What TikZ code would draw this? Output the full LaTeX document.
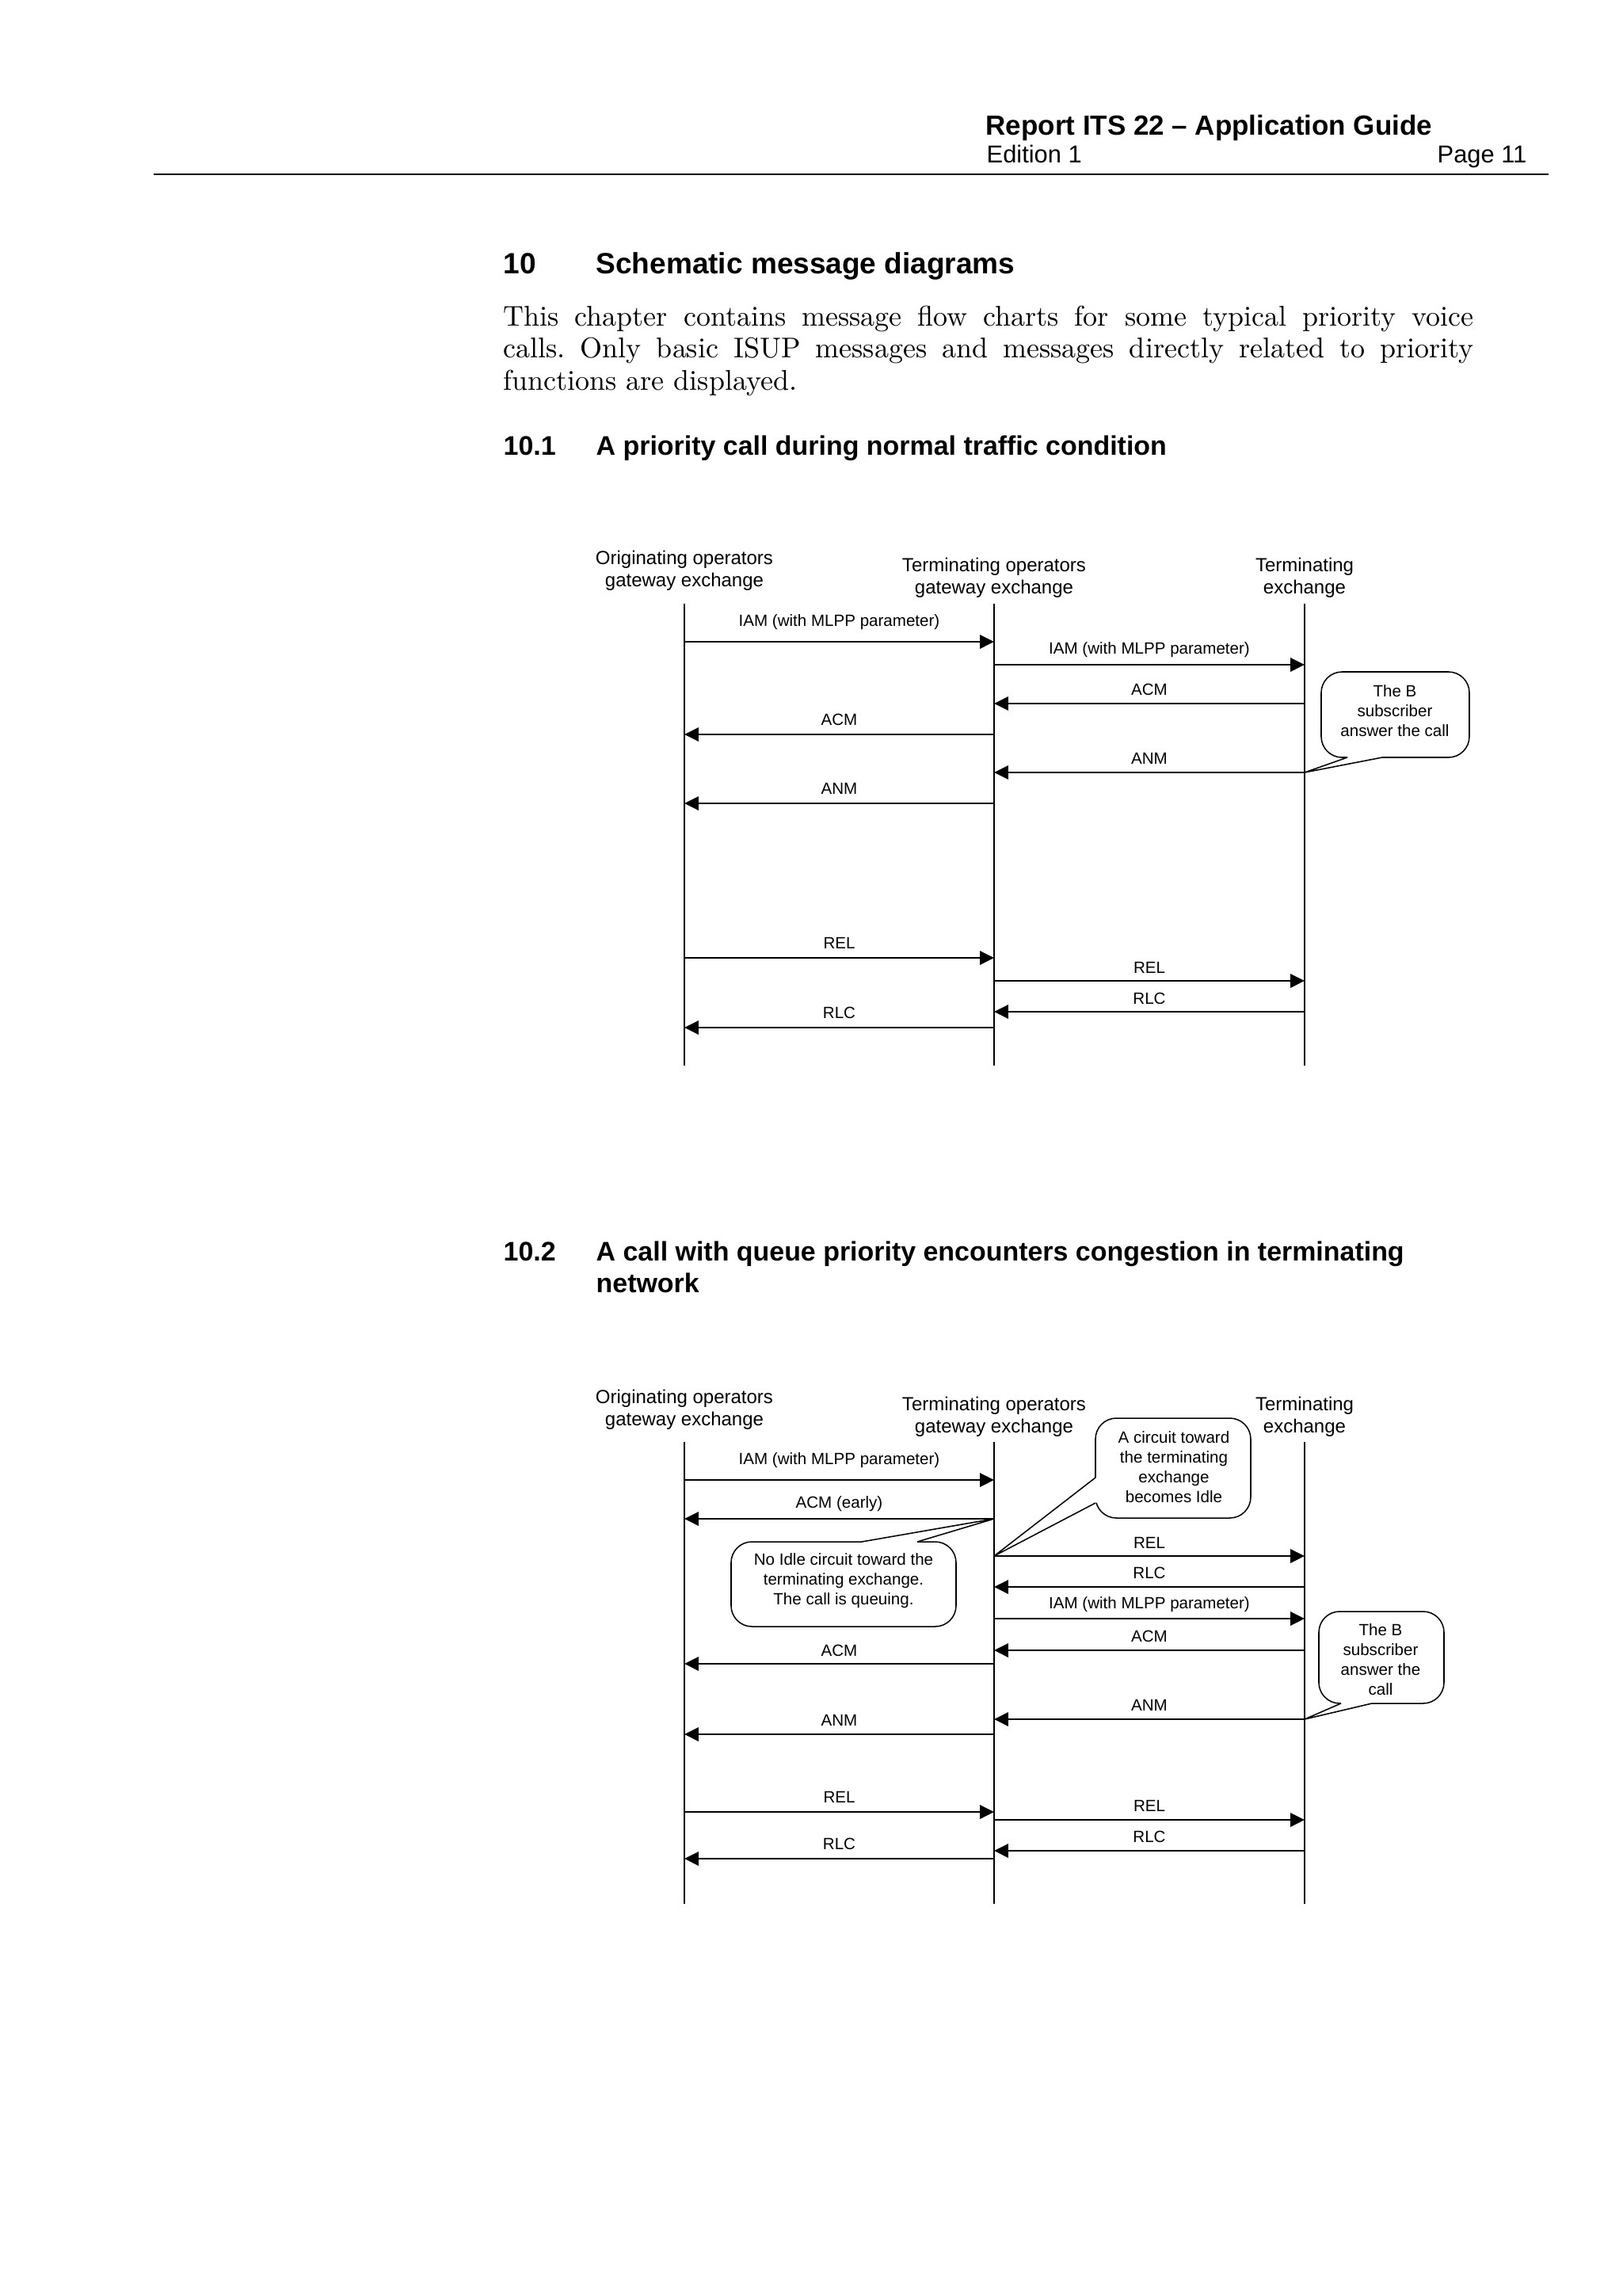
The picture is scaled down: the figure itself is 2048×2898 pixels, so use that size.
\documentclass[tikz,border=0pt]{standalone}
\usepackage{fontspec}
\newfontfamily\arial{Liberation Sans}
\usetikzlibrary{arrows.meta}
\tikzset{
  life/.style={line width=0.4pt},
  msg/.style={line width=0.7pt, -{Triangle[length=5.2pt,width=5pt]}},
  lbl/.style={font=\arial\fontsize{6pt}{7pt}\selectfont, anchor=base, inner sep=0pt},
  part/.style={font=\arial\fontsize{7pt}{8.1pt}\selectfont, align=center, inner sep=0pt},
  callout/.style={line width=0.45pt, rounded corners=2.7mm, fill=white},
  tail/.style={line width=0.45pt},
  ctext/.style={font=\arial\fontsize{6pt}{7.3pt}\selectfont, align=center, inner sep=0pt},
  head/.style={font=\arial\bfseries\fontsize{10.8pt}{12.2pt}\selectfont, anchor=base west, inner sep=0pt},
  subhead/.style={font=\arial\bfseries\fontsize{9.9pt}{11.8pt}\selectfont, anchor=base west, inner sep=0pt},
  body/.style={anchor=north west, inner sep=0pt, text width=125.6mm, align=justify,
               font=\fontsize{10.5pt}{11.9pt}\selectfont\frenchspacing},
}
\newcommand\Msg[6]{%
  \coordinate (#1s) at (#2,#4);
  \coordinate (#1e) at (#3,#4);
  \draw[msg] (#1s) -- (#1e);
  \node[lbl] (#1l) at ({(#2+#3)/2},#5) {#6};}
\begin{document}
\begin{tikzpicture}[x=0.1025390625mm, y=-0.1025390625mm]
\useasboundingbox (0,0) rectangle (2048,2898);
% ---------- page header ----------
\node[anchor=base west, inner sep=0pt, font=\arial\bfseries\fontsize{10.2pt}{12pt}\selectfont] (hdr) at (1244,170) {Report ITS 22 – Application Guide};
\node[anchor=base west, inner sep=0pt, font=\arial\fontsize{9pt}{10pt}\selectfont] (ed) at (1245,205) {Edition 1};
\node[anchor=base east, inner sep=0pt, font=\arial\fontsize{9pt}{10pt}\selectfont] (pg) at (1928,205) {Page 11};
\coordinate (rl) at (194,220); \coordinate (rr) at (1955,220);
\draw[line width=0.75pt] (rl) -- (rr);
% ---------- chapter text ----------
\node[head] (s10n) at (635,345) {10};
\node[head] (s10t) at (752,345) {Schematic message diagrams};
\node[body] (intro) at (635,385) {This chapter contains message flow charts for some typical priority voice\linebreak calls. Only basic ISUP messages and messages directly related to priority\linebreak functions are displayed.};
\node[subhead] (s101n) at (635,574) {10.1};
\node[subhead] (s101t) at (752,574) {A priority call during normal traffic condition};
\node[subhead] (s102n) at (635,1591) {10.2};
\node[subhead, anchor=north west, align=left] (s102t) at (752,1566) {A call with queue priority encounters congestion in terminating\\network};
% ---------- diagram 1 ----------
\node[part] (o1) at (864,720) {Originating operators\\gateway exchange};
\node[part] (g1) at (1255,729) {Terminating operators\\gateway exchange};
\node[part] (t1) at (1647,729) {Terminating\\exchange};
\coordinate (o1t) at (864,762);  \coordinate (o1b) at (864,1345);
\coordinate (g1t) at (1255,762); \coordinate (g1b) at (1255,1345);
\coordinate (t1t) at (1647,762); \coordinate (t1b) at (1647,1345);
\draw[life] (o1t) -- (o1b);
\draw[life] (g1t) -- (g1b);
\draw[life] (t1t) -- (t1b);
\Msg{m1}{864}{1255}{810}{790}{IAM (with MLPP parameter)}
\Msg{m2}{1255}{1647}{839}{825}{IAM (with MLPP parameter)}
\Msg{m3}{1647}{1255}{888}{877}{ACM}
\Msg{m4}{1255}{864}{927}{915}{ACM}
\Msg{m5}{1647}{1255}{975}{964}{ANM}
\Msg{m6}{1255}{864}{1014}{1002}{ANM}
\Msg{m7}{864}{1255}{1209}{1197}{REL}
\Msg{m8}{1255}{1647}{1238}{1228}{REL}
\Msg{m9}{1647}{1255}{1277}{1267}{RLC}
\Msg{m10}{1255}{864}{1297}{1285}{RLC}
% callout
\draw[callout] (1668,848) rectangle (1855,956);
\fill[white] (1702,951) -- (1744,951) -- (1745,957) -- (m5s) -- (1701,957) -- cycle;
\draw[tail] (1701,956) -- (m5s) -- (1745,956);
\node[ctext] (cb1) at (1761,897) {The B\\subscriber\\answer the call};
% ---------- diagram 2 ----------
\node[part] (o2) at (864,1779) {Originating operators\\gateway exchange};
\node[part] (g2) at (1255,1788) {Terminating operators\\gateway exchange};
\node[part] (t2) at (1647,1788) {Terminating\\exchange};
\coordinate (o2t) at (864,1820);  \coordinate (o2b) at (864,2403);
\coordinate (g2t) at (1255,1820); \coordinate (g2b) at (1255,2403);
\coordinate (t2t) at (1647,1820); \coordinate (t2b) at (1647,2403);
\draw[life] (o2t) -- (o2b);
\draw[life] (g2t) -- (g2b);
\draw[life] (t2t) -- (t2b);
\Msg{n1}{864}{1255}{1868}{1848}{IAM (with MLPP parameter)}
\Msg{n2}{1255}{864}{1917}{1903}{ACM (early)}
\Msg{n3}{1255}{1647}{1964}{1954}{REL}
\Msg{n4}{1647}{1255}{2003}{1992}{RLC}
\Msg{n5}{1255}{1647}{2043}{2030}{IAM (with MLPP parameter)}
\Msg{n6}{1647}{1255}{2083}{2072}{ACM}
\Msg{n7}{1255}{864}{2100}{2090}{ACM}
\Msg{n8}{1647}{1255}{2170}{2159}{ANM}
\Msg{n9}{1255}{864}{2189}{2178}{ANM}
\Msg{n10}{864}{1255}{2287}{2275}{REL}
\Msg{n11}{1255}{1647}{2297}{2286}{REL}
\Msg{n12}{1647}{1255}{2336}{2325}{RLC}
\Msg{n13}{1255}{864}{2346}{2334}{RLC}
% callout: circuit becomes idle
\draw[callout] (1383,1790) rectangle (1579,1916);
\fill[white] (1388,1866) -- (1388,1896) -- (1382,1897) -- (n3s) -- (1382,1865) -- cycle;
\draw[tail] (1383,1865) -- (n3s) -- (1383,1897);
\node[ctext] (ca) at (1482,1852) {A circuit toward\\the terminating\\exchange\\becomes Idle};
% callout: no idle circuit
\draw[callout] (923,1946) rectangle (1207,2053);
\fill[white] (1089,1951) -- (1157,1951) -- (1158,1945) -- (n2s) -- (1088,1945) -- cycle;
\draw[tail] (1088,1946) -- (n2s) -- (1158,1946);
\node[ctext] (cq) at (1065,1995) {No Idle circuit toward the\\terminating exchange.\\The call is queuing.};
% callout: B subscriber answers
\draw[callout] (1665,2034) rectangle (1823,2150);
\fill[white] (1694,2145) -- (1731,2145) -- (1732,2151) -- (n8s) -- (1693,2151) -- cycle;
\draw[tail] (1693,2150) -- (n8s) -- (1732,2150);
\node[ctext] (cb2) at (1743,2095) {The B\\subscriber\\answer the\\call};
\end{tikzpicture}
\end{document}
